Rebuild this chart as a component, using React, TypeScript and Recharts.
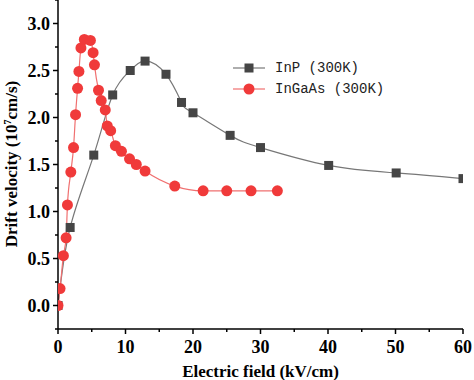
import { LineChart, Line, XAxis, YAxis } from "recharts";

const inpField = [0, 1.8, 5.3, 8.1, 10.7, 12.9, 16.0, 18.3, 20.0, 25.5, 30.0, 40.1, 50.1, 60];
const inpVelocity = [0, 0.83, 1.6, 2.24, 2.5, 2.6, 2.46, 2.16, 2.05, 1.81, 1.68, 1.49, 1.41, 1.35];

const ingaasField = [
  0, 0.3, 0.8, 1.2, 1.4, 1.9, 2.3, 2.6, 2.9, 3.1, 3.4, 3.9, 4.8, 5.2, 5.4, 6.0, 6.4, 7.0, 7.3,
  7.8, 8.5, 9.4, 10.6, 11.6, 12.9, 17.3, 21.5, 25.0, 28.6, 32.5,
];
const ingaasVelocity = [
  0, 0.18, 0.53, 0.72, 1.07, 1.42, 1.68, 2.03, 2.31, 2.49, 2.74, 2.83, 2.82, 2.69, 2.56, 2.29,
  2.18, 2.08, 1.91, 1.86, 1.7, 1.64, 1.56, 1.5, 1.43, 1.27, 1.22, 1.22, 1.22, 1.22,
];

const xTicks = [0, 5, 10, 15, 20, 25, 30, 35, 40, 45, 50, 55, 60];
const yTicks = [-0.25, 0, 0.25, 0.5, 0.75, 1, 1.25, 1.5, 1.75, 2, 2.25, 2.5, 2.75, 3, 3.25];

const inpData = inpField.map((x, i) => ({ x, v: inpVelocity[i] }));
const ingaasData = ingaasField.map((x, i) => ({ x, v: ingaasVelocity[i] }));

const SERIF = "'Liberation Serif', 'Times New Roman', serif";
const RED = "#f03a3a";
const GRAY = "#454545";

function XTick(props: any) {
  const { x, y, payload } = props;
  const major = payload.value % 10 === 0;
  return (
    <g>
      <line x1={x} y1={y} x2={x} y2={y + (major ? 5 : 3)} stroke="#000" strokeWidth={1.5} />
      {major && (
        <text x={x} y={y + 24} textAnchor="middle" fontFamily={SERIF} fontWeight="bold" fontSize={18} fill="#000">
          {payload.value}
        </text>
      )}
    </g>
  );
}

function YTick(props: any) {
  const { x, y, payload } = props;
  const v = payload.value;
  const major = v >= 0 && Math.abs(v * 2 - Math.round(v * 2)) < 1e-6;
  return (
    <g>
      <line x1={x - (major ? 5 : 3)} y1={y} x2={x} y2={y} stroke="#000" strokeWidth={1.5} />
      {major && (
        <text x={x - 8} y={y + 6} textAnchor="end" fontFamily={SERIF} fontWeight="bold" fontSize={18} fill="#000">
          {v.toFixed(1)}
        </text>
      )}
    </g>
  );
}

function SquareDot(props: any) {
  const { cx, cy, index } = props;
  return <rect key={`sq-${index}`} x={cx - 4.5} y={cy - 4.5} width={9} height={9} fill={GRAY} />;
}

function LegendBox() {
  const rows = [
    { name: "InP (300K)", color: GRAY, line: "#777", square: true },
    { name: "InGaAs (300K)", color: RED, line: "#f07070", square: false },
  ];
  return (
    <div style={{ position: "absolute", left: 233, top: 57 }}>
      {rows.map((r) => (
        <div key={r.name} style={{ display: "flex", alignItems: "center", height: 21 }}>
          <svg width={32} height={12}>
            <line x1={0} y1={6} x2={32} y2={6} stroke={r.line} strokeWidth={1.2} />
            {r.square ? (
              <rect x={11.5} y={1.5} width={9} height={9} fill={r.color} />
            ) : (
              <circle cx={16} cy={6} r={5.5} fill={r.color} />
            )}
          </svg>
          <span style={{ marginLeft: 10, fontFamily: "'Liberation Mono', monospace", fontSize: 14, color: "#222" }}>
            {r.name}
          </span>
        </div>
      ))}
    </div>
  );
}

export default function App() {
  return (
    <div style={{ position: "absolute", left: 0, top: 0, width: 474, height: 380, background: "#fff" }}>
      <LineChart width={474} height={380} margin={{ top: 0, right: 11, left: 0, bottom: 0 }}>
        <XAxis
          dataKey="x"
          type="number"
          domain={[0, 60]}
          allowDataOverflow
          ticks={xTicks}
          interval={0}
          tick={<XTick />}
          tickLine={false}
          tickSize={0}
          tickMargin={0}
          stroke="#000"
          strokeWidth={1.5}
          height={51}
          label={{
            value: "Electric field (kV/cm)",
            position: "insideBottom",
            offset: 3,
            fontFamily: SERIF,
            fontWeight: "bold",
            fontSize: 17,
            fill: "#000",
          }}
        />
        <YAxis
          dataKey="v"
          type="number"
          domain={[-0.25, 3.25]}
          ticks={yTicks}
          interval={0}
          tick={<YTick />}
          tickLine={false}
          tickSize={0}
          tickMargin={0}
          stroke="#000"
          strokeWidth={1.5}
          width={58}
          label={{
            content: () => (
              <text
                x={17}
                y={164}
                transform="rotate(-90 17 164)"
                textAnchor="middle"
                fontFamily={SERIF}
                fontWeight="bold"
                fontSize={17}
                fill="#000"
              >
                Drift velocity (10
                <tspan dy={-6} fontSize={10}>7</tspan>
                <tspan dy={6}>cm/s)</tspan>
              </text>
            ),
          }}
        />
        <Line
          data={inpData}
          dataKey="v"
          type="natural"
          stroke="#777"
          strokeWidth={1.2}
          dot={<SquareDot />}
          activeDot={false}
          isAnimationActive={false}
          name="InP (300K)"
        />
        <Line
          data={ingaasData}
          dataKey="v"
          type="monotone"
          stroke="#f07070"
          strokeWidth={1.2}
          dot={{ r: 5.5, fill: RED, stroke: "none" }}
          activeDot={false}
          isAnimationActive={false}
          name="InGaAs (300K)"
        />
      </LineChart>
      <LegendBox />
    </div>
  );
}
